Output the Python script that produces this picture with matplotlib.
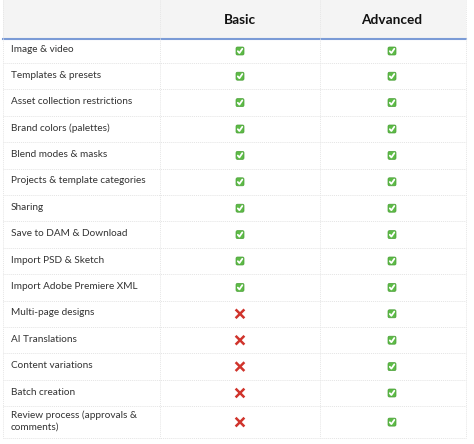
import matplotlib
matplotlib.use("Agg")
import matplotlib.pyplot as plt
from matplotlib.patches import FancyBboxPatch, Rectangle

features = ["Image & video", "Templates & presets", "Asset collection restrictions",
            "Brand colors (palettes)", "Blend modes & masks", "Projects & template categories",
            "Sharing", "Save to DAM & Download", "Import PSD & Sketch", "Import Adobe Premiere XML",
            "Multi-page designs", "AI Translations", "Content variations", "Batch creation",
            "Review process (approvals &\ncomments)"]
plans = ["Basic", "Advanced"]
basic = [1]*10 + [0]*5
advanced = [1]*15

plt.rcParams['font.family'] = ['Lato', 'DejaVu Sans']
fig = plt.figure(figsize=(4.74, 4.44), dpi=100)
ax = fig.add_axes([0, 0, 1, 1])
ax.set_xlim(0, 474); ax.set_ylim(444, 0); ax.axis('off')

left, right = 3, 466
colx = [160, 320]
centers = [240, 392]
ax.add_patch(Rectangle((left, 0), right-left, 39, color='#f4f4f4', lw=0))
ax.plot([left, right], [39, 39], color='#7b9bd6', lw=1.5)
bounds = [39] + [63 + 26.4*k for k in range(14)] + [438]
for b in bounds[1:]:
    ax.plot([left, right], [b, b], color='#e4e4e4', lw=0.7, ls=(0, (1, 1)))
for x in colx + [left, right]:
    ax.plot([x, x], [0, 438], color='#e6e6e6', lw=0.7, ls=(0, (1, 1)))
for c, p in zip(centers, plans):
    ax.text(c, 20, p, ha='center', va='center', fontsize=9.8, fontweight='bold', color='#111111')

def check(x, y):
    s = 8
    ax.add_patch(FancyBboxPatch((x-s/2, y-s/2), s, s, boxstyle="round,pad=0,rounding_size=1.5",
                                fc='#5dbb46', ec='#4a9e38', lw=0.5))
    ax.plot([x-2.2, x-0.6, x+2.3], [y+0.2, y+2, y-2.2], color='white', lw=1.3, solid_capstyle='round')

def cross(x, y):
    d = 3.5
    ax.plot([x-d, x+d], [y-d, y+d], color='#d0342c', lw=1.8)
    ax.plot([x-d, x+d], [y+d, y-d], color='#d0342c', lw=1.8)

for i, f in enumerate(features):
    yc = (bounds[i] + bounds[i+1]) / 2
    ax.text(11, yc - 1, f, ha='left', va='center', fontsize=7.2, color='#333333', linespacing=1.3)
    for c, v in zip(centers, [basic[i], advanced[i]]):
        (check if v else cross)(c, yc)

fig.savefig("out.png", dpi=100, facecolor='white')
